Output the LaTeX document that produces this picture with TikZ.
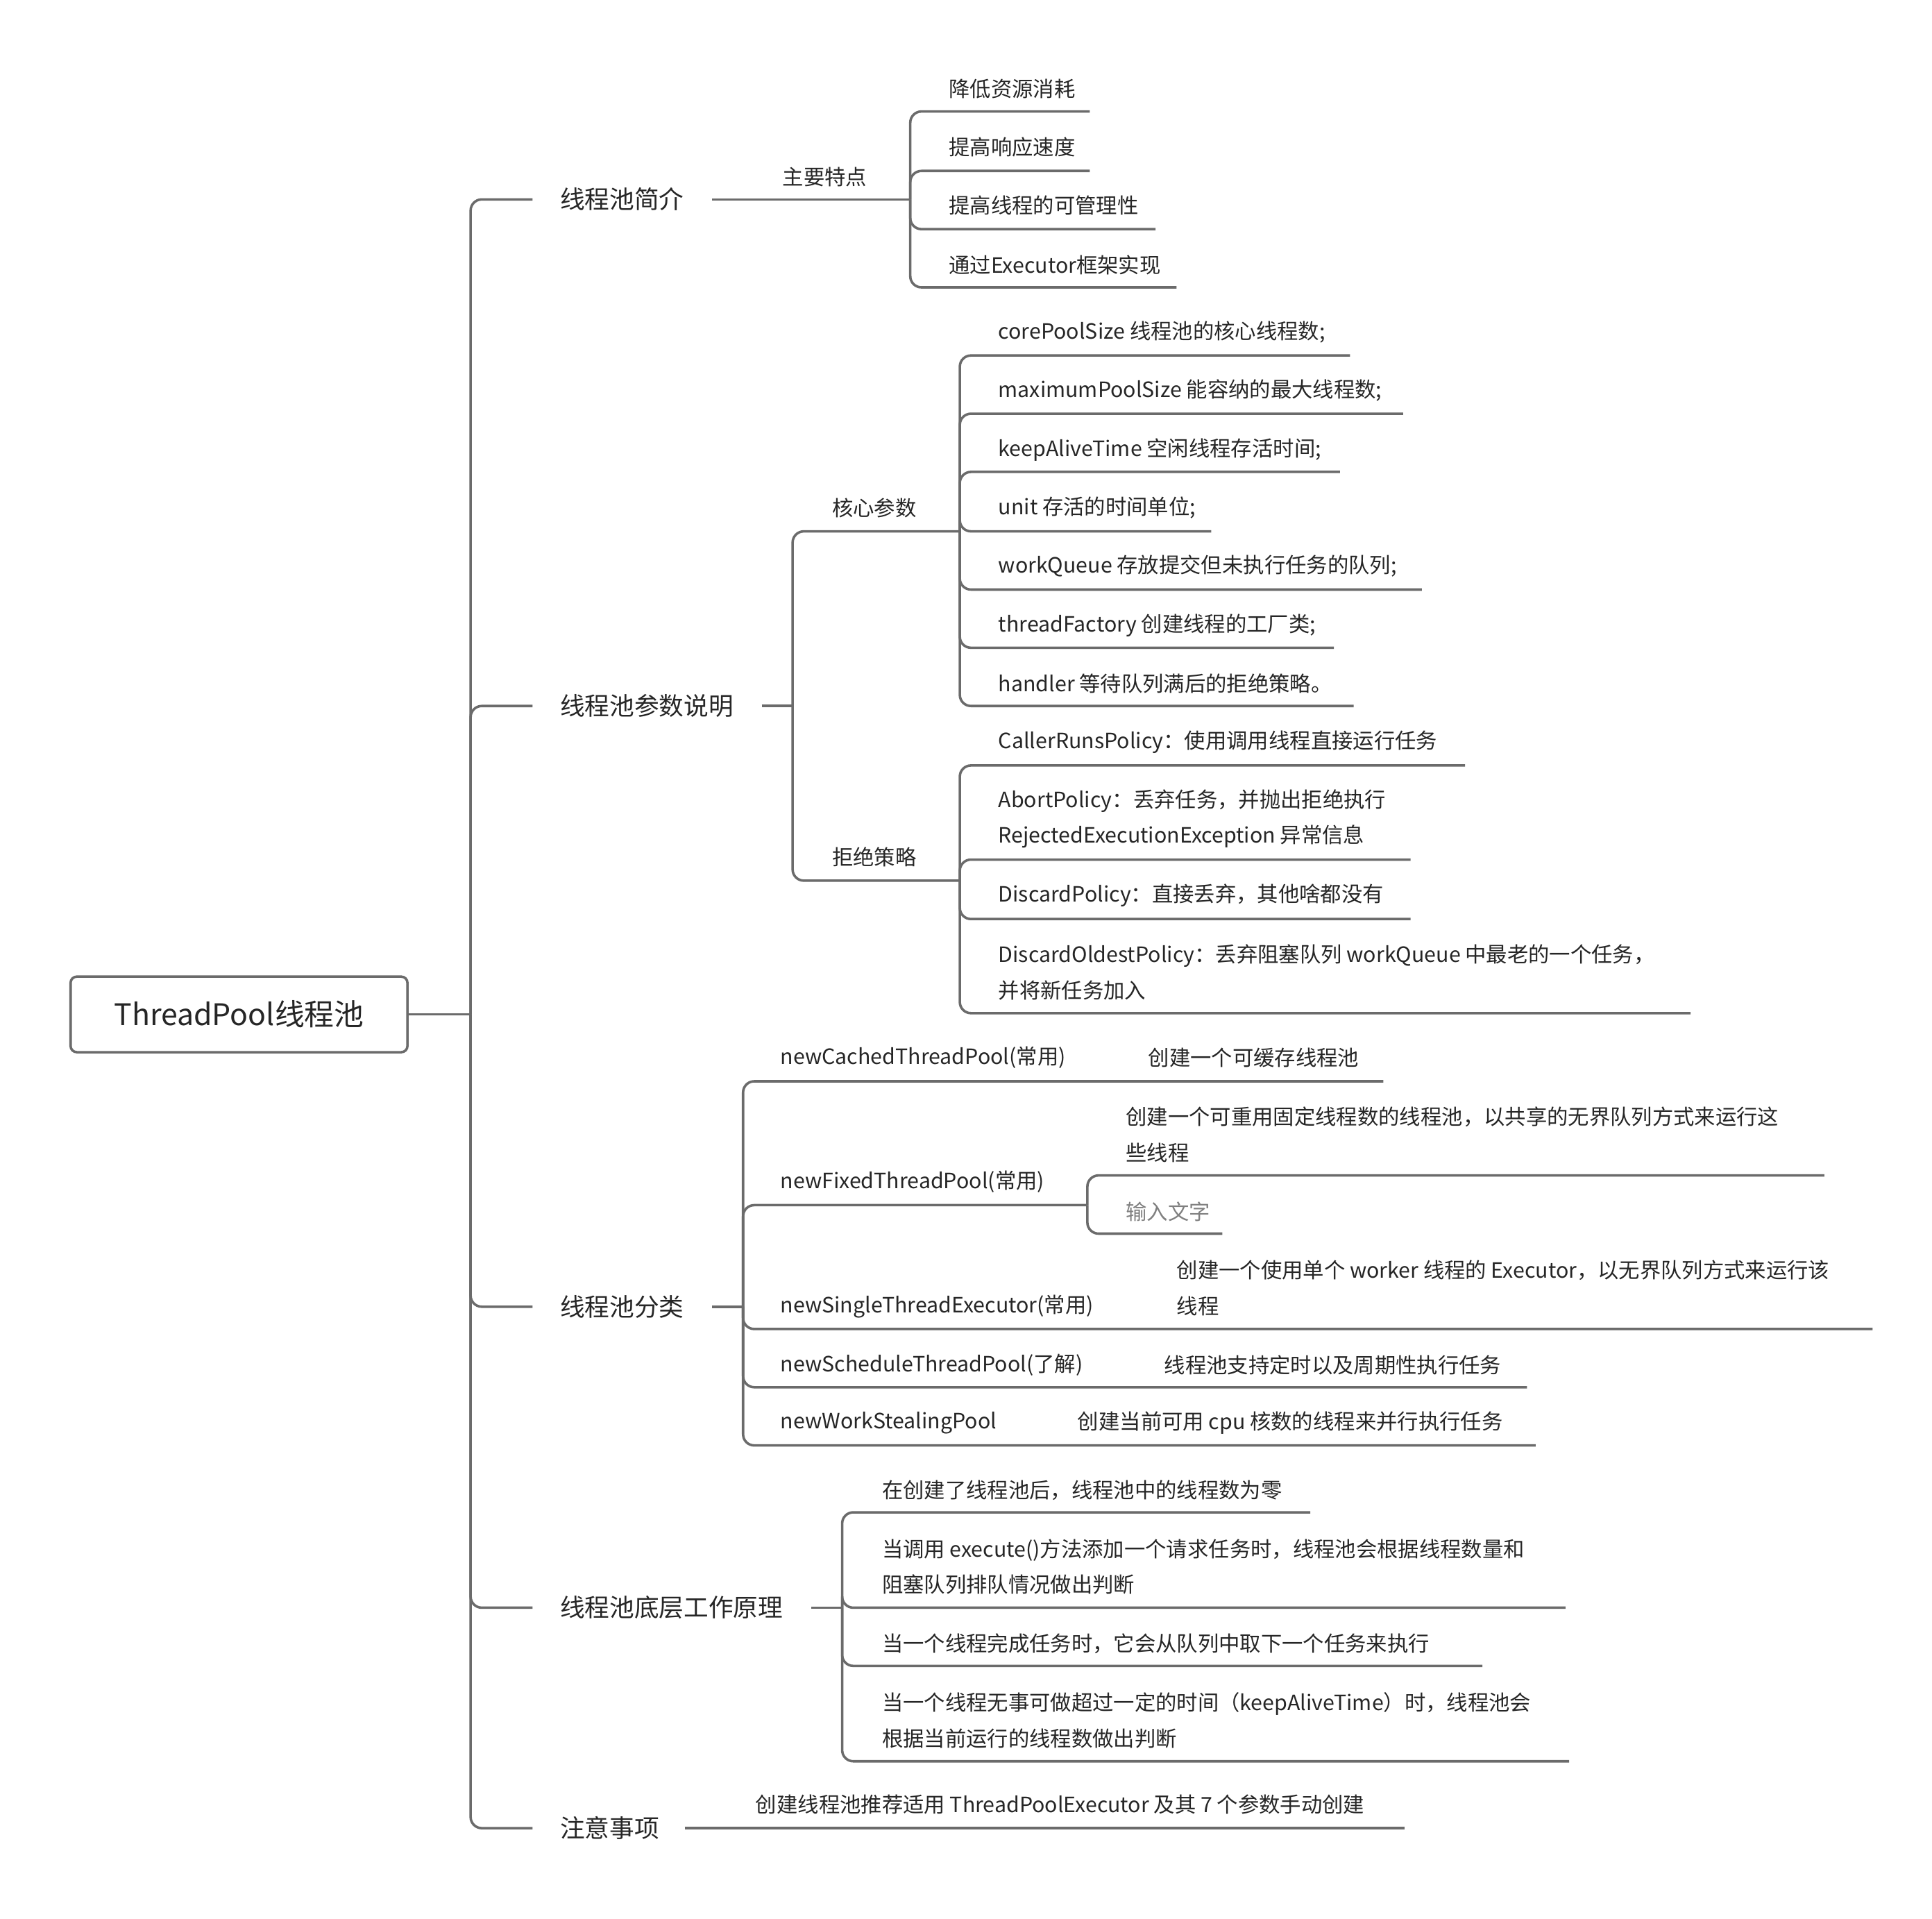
\documentclass[tikz,border=0pt]{standalone}
\usepackage{fontspec}
\setmainfont{Noto Sans CJK SC}
\begin{document}
\begin{tikzpicture}[x=1pt,y=-1pt,
  ln/.style={draw=black!58,line width=2pt,rounded corners=9pt},
  lf/.style={anchor=west,inner sep=0pt,font=\fontsize{17}{29}\selectfont,text=black!85,align=left},
  br/.style={anchor=west,inner sep=0pt,font=\fontsize{20}{24}\selectfont,text=black!85}]
\useasboundingbox[fill=white] (0,0) rectangle (1560,1549);
\newcommand\cn[4]{\draw[ln] (#1,#2) -- (#1,#3) -- (#4,#3);}
% root
\node[draw=black!58,line width=2pt,rounded corners=5pt,minimum width=272pt,minimum height=61pt,font=\fontsize{24}{28}\selectfont,text=black!85] (root) at (193,819) {ThreadPool线程池};
\draw[ln] (root.east) -- (380,819);
\foreach \y in {161,570,1055,1298,1476}{\cn{380}{819}{\y}{430}}
\node[br] (b1) at (452,161) {线程池简介};
\node[br] (b2) at (452,570) {线程池参数说明};
\node[br] (b3) at (452,1055) {线程池分类};
\node[br] (b4) at (452,1298) {线程池底层工作原理};
\node[br] (b5) at (452,1476) {注意事项};
% branch 1
\draw[ln] (575,161) -- (735,161);
\node[lf,anchor=center] (m1) at (666,143) {主要特点};
\cn{735}{161}{90}{880}\cn{735}{161}{138}{880}\cn{735}{161}{185}{933}\cn{735}{161}{232}{950}
\node[lf] (a1) at (766,72) {降低资源消耗};
\node[lf] (a2) at (766,119) {提高响应速度};
\node[lf] (a3) at (766,166) {提高线程的可管理性};
\node[lf] (a4) at (766,214) {通过Executor框架实现};
% branch 2
\draw[ln] (615,570) -- (640,570);
\cn{640}{570}{429}{775}\cn{640}{570}{711}{775}
\node[lf,anchor=center] (k) at (706,410) {核心参数};
\node[lf,anchor=center] (j) at (706,692) {拒绝策略};
\cn{775}{429}{287}{1090}\cn{775}{429}{334}{1133}\cn{775}{429}{381}{1082}\cn{775}{429}{429}{978}
\cn{775}{429}{476}{1148}\cn{775}{429}{523}{1077}\cn{775}{429}{570}{1093}
\node[lf] (k1) at (806,268) {corePoolSize 线程池的核心线程数;};
\node[lf] (k2) at (806,315) {maximumPoolSize 能容纳的最大线程数;};
\node[lf] (k3) at (806,363) {keepAliveTime 空闲线程存活时间;};
\node[lf] (k4) at (806,410) {unit 存活的时间单位;};
\node[lf] (k5) at (806,457) {workQueue 存放提交但未执行任务的队列;};
\node[lf] (k6) at (806,505) {threadFactory 创建线程的工厂类;};
\node[lf] (k7) at (806,552) {handler 等待队列满后的拒绝策略。};
\cn{775}{711}{618}{1183}\cn{775}{711}{694}{1139}\cn{775}{711}{742}{1139}\cn{775}{711}{818}{1365}
\node[lf] (j1) at (806,599) {CallerRunsPolicy：使用调用线程直接运行任务};
\node[lf] (j2) at (806,661) {AbortPolicy：丢弃任务，并抛出拒绝执行\\RejectedExecutionException 异常信息};
\node[lf] (j3) at (806,723) {DiscardPolicy：直接丢弃，其他啥都没有};
\node[lf] (j4) at (806,785) {DiscardOldestPolicy：丢弃阻塞队列 workQueue 中最老的一个任务，\\并将新任务加入};
% branch 3
\draw[ln] (575,1055) -- (600,1055);
\cn{600}{1055}{873}{1117}\cn{600}{1055}{973}{878}\cn{600}{1055}{1073}{1512}\cn{600}{1055}{1120}{1233}\cn{600}{1055}{1167}{1240}
\node[lf] (c1) at (630,854) {newCachedThreadPool(常用)};
\node[lf] (c1a) at (927,854) {创建一个可缓存线程池};
\node[lf] (c2) at (630,954) {newFixedThreadPool(常用)};
\cn{878}{973}{949}{1473}\cn{878}{973}{996}{987}
\node[lf] (c2a) at (909,916) {创建一个可重用固定线程数的线程池，以共享的无界队列方式来运行这\\些线程};
\node[lf,text=black!50] (c2b) at (909,978) {输入文字};
\node[lf] (c3) at (630,1055) {newSingleThreadExecutor(常用)};
\node[lf] (c3a) at (950,1040) {创建一个使用单个 worker 线程的 Executor，以无界队列方式来运行该\\线程};
\node[lf] (c4) at (630,1102) {newScheduleThreadPool(了解)};
\node[lf] (c4a) at (940,1102) {线程池支持定时以及周期性执行任务};
\node[lf] (c5) at (630,1149) {newWorkStealingPool};
\node[lf] (c5a) at (870,1149) {创建当前可用 cpu 核数的线程来并行执行任务};
% branch 4
\draw[ln] (655,1298) -- (680,1298);
\cn{680}{1298}{1221}{1058}\cn{680}{1298}{1298}{1264}\cn{680}{1298}{1345}{1197}\cn{680}{1298}{1422}{1267}
\node[lf] (d1) at (712,1203) {在创建了线程池后，线程池中的线程数为零};
\node[lf] (d2) at (712,1265) {当调用 execute()方法添加一个请求任务时，线程池会根据线程数量和\\阻塞队列排队情况做出判断};
\node[lf] (d3) at (712,1327) {当一个线程完成任务时，它会从队列中取下一个任务来执行};
\node[lf] (d4) at (712,1389) {当一个线程无事可做超过一定的时间（keepAliveTime）时，线程池会\\根据当前运行的线程数做出判断};
% branch 5
\draw[ln] (553,1476) -- (1134,1476);
\node[lf] (e1) at (610,1457) {创建线程池推荐适用 ThreadPoolExecutor 及其 7 个参数手动创建};
\end{tikzpicture}
\end{document}
